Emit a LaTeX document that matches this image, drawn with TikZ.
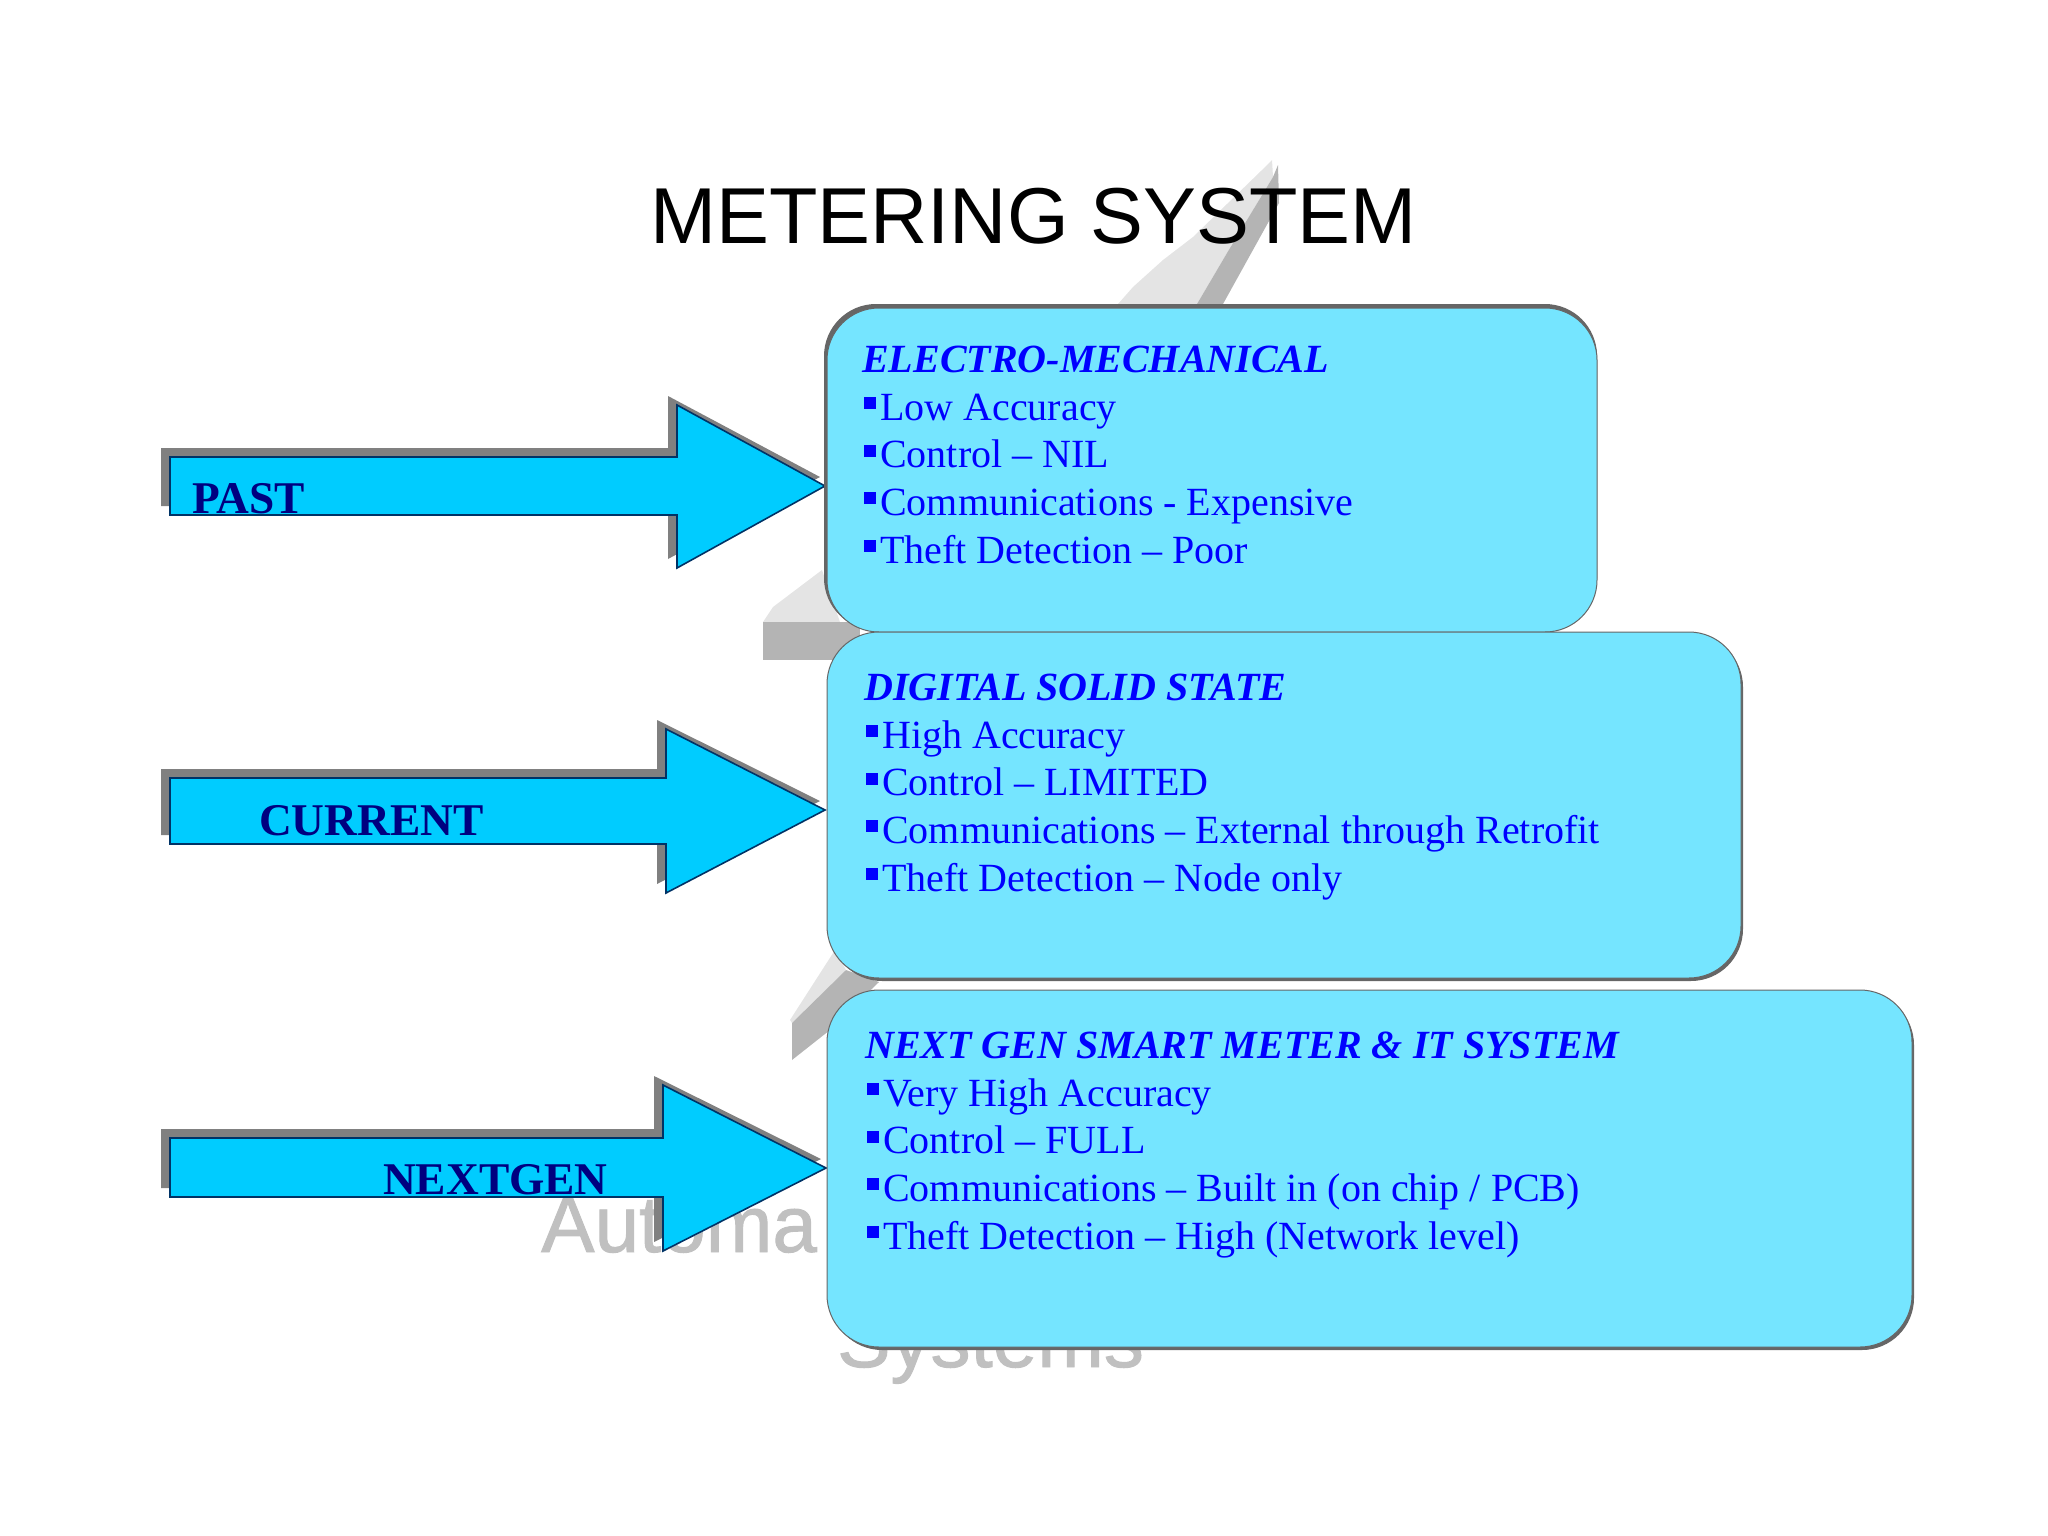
\documentclass[tikz,border=0pt]{standalone}
\usepackage{xcolor}
\usepackage{fontspec}
\setmainfont{Liberation Serif}
\newfontfamily\titlefont{Liberation Sans}
\newfontfamily\markfont[FakeBold=1.2]{Liberation Sans}
\usepackage{tikz}
\definecolor{BarraBlu}{HTML}{00CCFF}
\definecolor{PannelloBlu}{HTML}{75E5FF}
\definecolor{BordoBlu}{HTML}{003366}
\definecolor{OmbraGrigia}{HTML}{808080}
\definecolor{BordoGrigio}{HTML}{666666}
\definecolor{BoltLight}{HTML}{E4E4E4}
\definecolor{BoltMid}{HTML}{B4B4B4}
\definecolor{MarkGray}{HTML}{C0C0C0}
\newcommand{\sqb}{\hspace{.05em}\raisebox{.28em}{\rule{.3em}{.3em}}\hspace{.1em}}
\tikzset{
  arrowbody/.style = {draw = BordoBlu, fill = BarraBlu, line width = 1.6pt, line join = miter},
  arrowshade/.style = {fill = OmbraGrigia},
  panel/.style = {draw = BordoGrigio, fill = PannelloBlu, line width = 1pt, rounded corners = 52pt},
  panelshade/.style = {fill = BordoGrigio, rounded corners = 52pt},
  paneltext/.style = {anchor = north west, inner sep = 0pt, align = left, text = blue,
    font = \fontsize{40}{47.6}\selectfont},
  arrowlabel/.style = {anchor = base west, inner sep = 0pt, text = {rgb,255:red,0;green,0;blue,128},
    font = \fontsize{45.4}{50}\selectfont\bfseries},
  watermark/.style = {anchor = base west, inner sep = 0pt, text = MarkGray,
    font = \markfont\fontsize{80}{90}\selectfont}
}
\begin{document}
\begin{tikzpicture}[x = 1pt, y = -1pt]
  \useasboundingbox (0,0) rectangle (2048,1536);

  % watermark behind everything
  \fill[BoltLight] (1272,160) -- (1262,170) -- (1193,237) -- (1163,260) -- (1133,287)
    -- (1118,304) -- (1197,304) -- (1227,253) -- (1273,177) -- cycle;
  \fill[BoltMid] (1278,165) -- (1279,203) -- (1223,304) -- (1197,304) -- (1227,253)
    -- (1273,177) -- cycle;
  \fill[BoltLight] (763,622) -- (773,607) -- (822,570) -- (840,622) -- cycle;
  \fill[BoltMid] (763,622) rectangle (860,660);
  \fill[BoltLight] (835,950) -- (790,1020) -- (792,1023) -- (846,970) -- cycle;
  \fill[BoltMid] (792,1060) -- (792,1023) -- (846,970) -- (879,982) -- (830,1030) -- cycle;
  \node[watermark] (markone) at (541,1252) {Automa};
  \node[watermark] (marktwo) at (837,1367) {Systems};

  \node[anchor = base west, inner sep = 0pt, font = \titlefont\fontsize{79.3}{90}\selectfont]
    (title) at (650,243) {METERING SYSTEM};

  % arrows
  \fill[arrowshade, shift = {(-9,-9)}] (170,457) -- (677,457) -- (677,405) -- (829,486)
    -- (677,568) -- (677,515) -- (170,515) -- cycle;
  \draw[arrowbody] (170,457) -- (677,457) -- (677,405) -- (825,486)
    -- (677,568) -- (677,515) -- (170,515) -- cycle;

  \fill[arrowshade, shift = {(-9,-9)}] (170,778) -- (666,778) -- (666,729) -- (829,810)
    -- (666,893) -- (666,844) -- (170,844) -- cycle;
  \draw[arrowbody] (170,778) -- (666,778) -- (666,729) -- (825,810)
    -- (666,893) -- (666,844) -- (170,844) -- cycle;

  \fill[arrowshade, shift = {(-9,-9)}] (170,1138) -- (663,1138) -- (663,1085) -- (830,1168)
    -- (663,1251) -- (663,1197) -- (170,1197) -- cycle;
  \draw[arrowbody] (170,1138) -- (663,1138) -- (663,1085) -- (826,1168)
    -- (663,1251) -- (663,1197) -- (170,1197) -- cycle;

  \node[arrowlabel] (past) at (192,513) {PAST};
  \node[arrowlabel] (current) at (259,835) {CURRENT};
  \node[arrowlabel] (nextgen) at (383,1194) {NEXTGEN};

  % panels
  \fill[panelshade] (824,304) rectangle (1597,630);
  \draw[panel] (827,308) rectangle (1597,632);
  \fill[panelshade] (830,635) rectangle (1743,981);
  \draw[panel] (827,632) rectangle (1741,978);
  \fill[panelshade] (830,993) rectangle (1914,1350);
  \draw[panel] (827,990) rectangle (1912,1347);

  \node[paneltext] (pasttext) at (862,346) {\textbf{\textit{ELECTRO-MECHANICAL}}\\
    \sqb Low Accuracy\\
    \sqb Control -- NIL\\
    \sqb Communications - Expensive\\
    \sqb Theft Detection -- Poor};
  \node[paneltext] (currenttext) at (864,674) {\textbf{\textit{DIGITAL SOLID STATE}}\\
    \sqb High Accuracy\\
    \sqb Control -- LIMITED\\
    \sqb Communications -- External through Retrofit\\
    \sqb Theft Detection -- Node only};
  \node[paneltext] (nextgentext) at (865,1032) {\textbf{\textit{NEXT GEN SMART METER \& IT SYSTEM}}\\
    \sqb Very High Accuracy\\
    \sqb Control -- FULL\\
    \sqb Communications -- Built in (on chip / PCB)\\
    \sqb Theft Detection -- High (Network level)};
\end{tikzpicture}
\end{document}
